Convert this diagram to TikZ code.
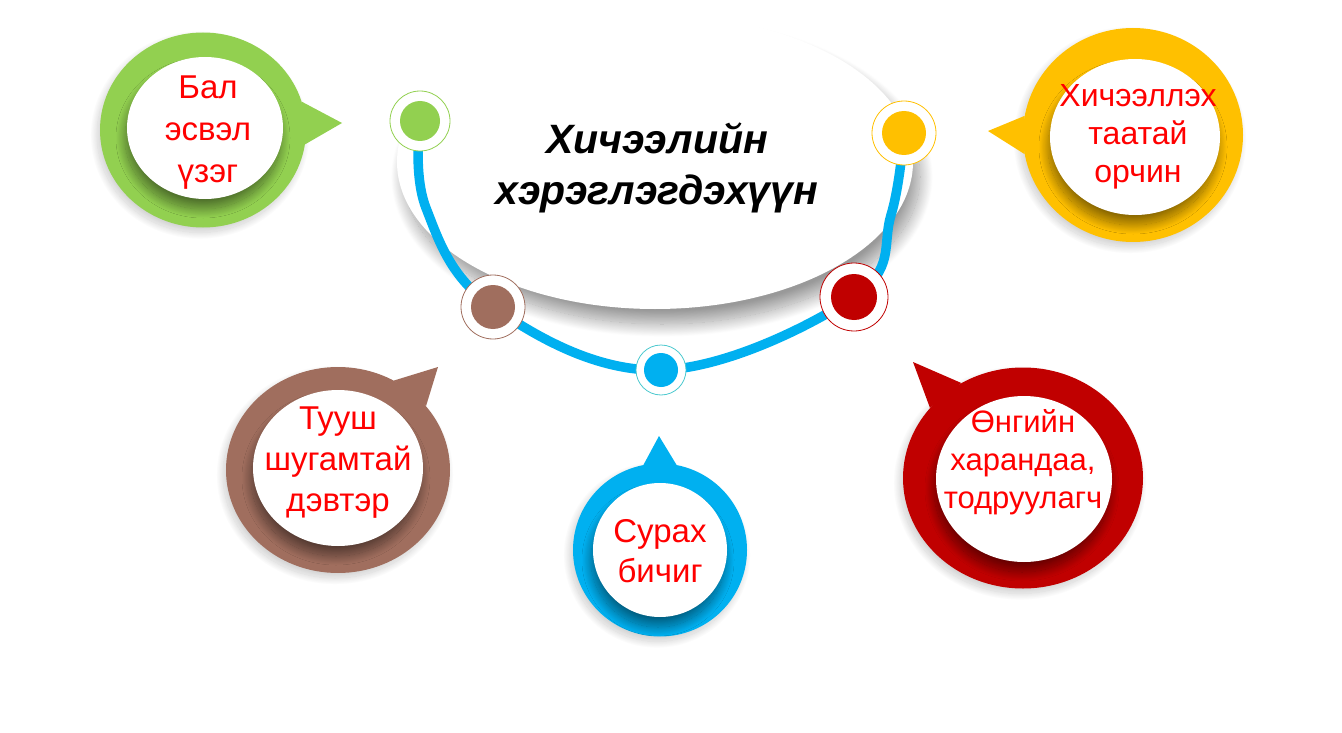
\documentclass[tikz,border=0pt]{standalone}
\usepackage{fontspec}
\setmainfont{Liberation Sans}
\usetikzlibrary{shapes.geometric,shadows.blur}

\definecolor{cgreen}{HTML}{92D050}
\definecolor{cyellow}{HTML}{FFC000}
\definecolor{cbrown}{HTML}{A06E5E}
\definecolor{cblue}{HTML}{00B0F0}
\definecolor{cred}{HTML}{C00000}
\definecolor{cteal}{HTML}{4CC9CF}
\definecolor{txtred}{HTML}{FF0000}

\tikzset{
  bubble/.style={ellipse, inner sep=0pt, blur shadow={shadow xshift=-3pt, shadow yshift=-5pt, shadow opacity=20, shadow blur radius=7pt, shadow blur steps=30}},
  hole/.style={ellipse, fill=white, inner sep=0pt, blur shadow={shadow xshift=-2pt, shadow yshift=-10pt, shadow opacity=45, shadow blur radius=9pt, shadow blur steps=30}},
  itemtext/.style={align=center, text=txtred, inner sep=0pt, font=\fontsize{33}{40}\selectfont},
  ring/.style={circle, fill=white, inner sep=0pt, line width=0.8pt},
  dot/.style={circle, inner sep=0pt},
  track/.style={cblue, line width=9.5pt},
}

\begin{document}
\begin{tikzpicture}[x=1pt,y=-1pt]
\useasboundingbox (0,0) rectangle (1342,733);

\node[ellipse, fill=white, minimum width=516pt, minimum height=294pt, blur shadow={shadow xshift=7pt, shadow yshift=-15pt, shadow opacity=40, shadow blur radius=13pt, shadow blur steps=30}] (cloud) at (655,162) {};
\node[align=center, inner sep=0pt, font=\bfseries\itshape\fontsize{41}{51}\selectfont] (title) at (657,168) {Хичээлийн\\хэрэглэгдэхүүн};

\coordinate (pGreen) at (420,121);
\coordinate (pBrown) at (493,307);
\coordinate (pBlue) at (661,370);
\coordinate (pRed) at (854,297);
\coordinate (pYellow) at (904,133);
\draw[track] plot[smooth, tension=0.65] coordinates {(pGreen) (426,208) (pBrown) (pBlue) (pRed) (891,215) (pYellow)};

\node[ring, draw=cgreen, minimum size=60pt] (mGreen) at (pGreen) {};
\node[dot, fill=cgreen, minimum size=40pt] (dGreen) at (pGreen) {};
\node[ring, draw=cbrown, minimum size=64pt] (mBrown) at (pBrown) {};
\node[dot, fill=cbrown, minimum size=44pt] (dBrown) at (pBrown) {};
\node[ring, draw=cteal, minimum size=50pt] (mBlue) at (pBlue) {};
\node[dot, fill=cblue, minimum size=34pt] (dBlue) at (pBlue) {};
\node[ring, draw=cred, minimum size=68pt] (mRed) at (pRed) {};
\node[dot, fill=cred, minimum size=46pt] (dRed) at (pRed) {};
\node[ring, draw=cyellow, minimum size=64pt] (mYellow) at (pYellow) {};
\node[dot, fill=cyellow, minimum size=44pt] (dYellow) at (pYellow) {};

\node[bubble, fill=cgreen, minimum width=206pt, minimum height=195pt] (bGreen) at (203,130) {};
\coordinate (tipGreen) at (342,123);
\fill[cgreen] (bGreen.16) -- (tipGreen) -- (bGreen.-8) -- cycle;
\node[hole, minimum width=156pt, minimum height=142pt] (hGreen) at (205,128) {};
\node[itemtext, font=\fontsize{33}{42}\selectfont] (tGreen) at (208,133) {Бал\\эсвэл\\үзэг};

\node[bubble, fill=cyellow, minimum width=220pt, minimum height=214pt] (bYellow) at (1133,135) {};
\coordinate (tipYellow) at (988,131);
\fill[cyellow] (bYellow.170) -- (tipYellow) -- (bYellow.190) -- cycle;
\node[hole, minimum width=170pt, minimum height=156pt] (hYellow) at (1135,137) {};
\node[itemtext, font=\fontsize{32}{38}\selectfont] (tYellow) at (1138,137) {Хичээллэх\\таатай\\орчин};

\node[bubble, fill=cbrown, minimum width=224pt, minimum height=206pt] (bBrown) at (338,470) {};
\coordinate (tipBrown) at (438,367);
\fill[cbrown] (bBrown.58) -- (tipBrown) -- (bBrown.36) -- cycle;
\node[hole, minimum width=170pt, minimum height=156pt] (hBrown) at (338,468) {};
\node[itemtext, font=\fontsize{33}{41}\selectfont] (tBrown) at (338,463) {Тууш\\шугамтай\\дэвтэр};

\node[bubble, fill=cblue, minimum width=174pt, minimum height=173pt] (bBlue) at (660,550) {};
\coordinate (tipBlue) at (659,436);
\fill[cblue] (bBlue.79) -- (tipBlue) -- (bBlue.101) -- cycle;
\node[hole, minimum width=134pt, minimum height=134pt] (hBlue) at (660,550) {};
\node[itemtext] (tBlue) at (660,551) {Сурах\\бичиг};

\node[bubble, fill=cred, minimum width=240pt, minimum height=221pt] (bRed) at (1023,478) {};
\coordinate (tipRed) at (913,362);
\fill[cred] (bRed.143) -- (tipRed) -- (bRed.123) -- cycle;
\node[hole, minimum width=176pt, minimum height=166pt] (hRed) at (1024,479) {};
\node[itemtext, font=\fontsize{31}{38}\selectfont] (tRed) at (1023,462) {Өнгийн\\харандаа,\\тодруулагч};
\end{tikzpicture}
\end{document}
